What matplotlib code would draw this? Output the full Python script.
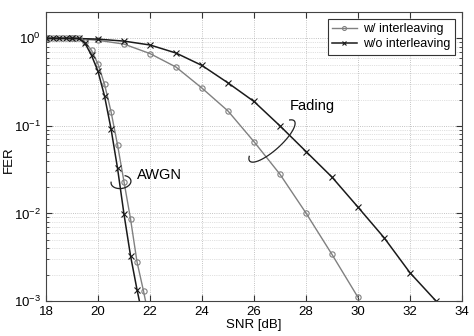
import numpy as np
import matplotlib
matplotlib.use("Agg")
import matplotlib.pyplot as plt
from matplotlib.lines import Line2D

plt.rcParams['font.family'] = ['Liberation Sans', 'DejaVu Sans']
plt.rcParams['mathtext.fontset'] = 'custom'
plt.rcParams['mathtext.rm'] = 'Liberation Sans'
plt.rcParams['mathtext.it'] = 'Liberation Sans:italic'

# Fading channel
fad_snr_w = [18, 19, 20, 21, 22, 23, 24, 25, 26, 27, 28, 29, 30]
fad_fer_w = [1.0, 1.0, 0.95, 0.86, 0.67, 0.47, 0.27, 0.148, 0.066, 0.028, 0.0101, 0.0034, 0.0011]
fad_snr_wo = [18, 19, 20, 21, 22, 23, 24, 25, 26, 27, 28, 29, 30, 31, 32, 33]
fad_fer_wo = [1.0, 1.0, 0.98, 0.93, 0.84, 0.68, 0.49, 0.31, 0.19, 0.10, 0.051, 0.026, 0.0118, 0.0053, 0.0021, 0.001]

# AWGN channel
awgn_snr_w = [18, 18.25, 18.5, 18.75, 19, 19.25, 19.5, 19.75, 20, 20.25, 20.5, 20.75, 21, 21.25, 21.5, 21.75, 22]
awgn_fer_w = [1.0, 1.0, 1.0, 1.0, 1.0, 1.0, 0.91, 0.73, 0.51, 0.30, 0.146, 0.061, 0.023, 0.0087, 0.0028, 0.0013, 0.00056]
awgn_snr_wo = [18, 18.25, 18.5, 18.75, 19, 19.25, 19.5, 19.75, 20, 20.25, 20.5, 20.75, 21, 21.25, 21.5, 21.75]
awgn_fer_wo = [1.0, 1.0, 1.0, 1.0, 1.0, 1.0, 0.88, 0.64, 0.42, 0.22, 0.093, 0.033, 0.0098, 0.0033, 0.00135, 0.0006]

xticks = [18, 20, 22, 24, 26, 28, 30, 32, 34]

W, H = 474, 336
fig = plt.figure(figsize=(W/100, H/100), dpi=100)
ax = fig.add_axes([46/W, 1-301/H, (462-46)/W, (301-12)/H])

c_w = '#808080'
c_wo = '#1a1a1a'
kw_w = dict(color=c_w, lw=1.0, marker='o', ms=3.8, mfc='none', mew=0.8)
kw_wo = dict(color=c_wo, lw=1.1, marker='x', ms=3.8, mew=0.8)

ax.plot(fad_snr_w, fad_fer_w, label='w/ interleaving', **kw_w)
ax.plot(fad_snr_wo, fad_fer_wo, label='w/o interleaving', **kw_wo)
ax.plot(awgn_snr_w, awgn_fer_w, **kw_w)
ax.plot(awgn_snr_wo, awgn_fer_wo, **kw_wo)

ax.set_yscale('log')
ax.set_xlim(18, 34)
ax.set_ylim(1e-3, 2.0)
ax.set_xticks(xticks)
ax.set_xticklabels([str(t) for t in xticks])
ax.grid(True, which='major', ls=':', lw=0.6, color='#b0b0b0')
ax.grid(True, which='minor', axis='y', ls=':', lw=0.5, color='#c4c4c4')
ax.tick_params(which='both', direction='in', top=True, right=True, labelsize=9.5, colors='#333333', labelcolor='black')
ax.tick_params(which='major', length=4)
ax.tick_params(which='minor', length=2)
for s in ax.spines.values():
    s.set_color('#444444')
    s.set_linewidth(0.8)

ax.set_xlabel('SNR [dB]', fontsize=9.5, labelpad=1)
ax.set_ylabel('FER', fontsize=9.5)
ax.yaxis.set_label_coords(-0.075, 0.49)

leg = ax.legend(loc='upper right', bbox_to_anchor=(0.983, 0.976), borderaxespad=0,
                fontsize=9, fancybox=False, edgecolor='#333333', framealpha=1,
                handlelength=2.0, handletextpad=0.5, markerscale=0.75, borderpad=0.35, labelspacing=0.25)
leg.get_frame().set_linewidth(0.8)

ax.text(28.23, 0.171, 'Fading', fontsize=10.5, ha='center', va='center')
ax.text(22.38, 0.0277, 'AWGN', fontsize=10.5, ha='center', va='center')

def arc(cx, cy, a, b, ang, t0, t1):
    t = np.radians(np.linspace(t0, t1, 100))
    th = np.radians(ang)
    u = np.array([np.cos(th), -np.sin(th)])
    v = np.array([np.sin(th), np.cos(th)])
    px = cx + a*np.cos(t)*u[0] + b*np.sin(t)*v[0]
    py = cy + a*np.cos(t)*u[1] + b*np.sin(t)*v[1]
    fig.add_artist(Line2D(px/W, 1-py/H, transform=fig.transFigure, color='#222222', lw=0.9))

arc(272, 141, 30, 9, 42, -25, 205)
arc(121, 182, 10, 6.5, 8, -60, 190)

fig.savefig('out.png', dpi=100)
